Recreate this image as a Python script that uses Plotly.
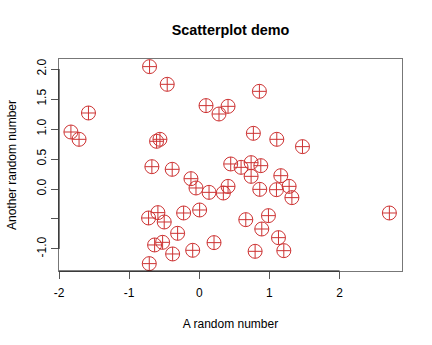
import plotly.graph_objects as go

x_vals = [-0.709, -0.457, -1.58, -1.83, -1.714, -0.609, -0.561, -0.676, -0.386, -0.119,
          -0.047, 0.139, 0.857, 0.096, 0.41, 0.281, 0.771, 1.105, 1.471, 0.448,
          0.596, 0.739, 0.877, 0.739, 1.162, 1.281, 1.1, 0.862, 1.32, 0.41,
          0.343, 0.005, 2.71, 0.663, 0.986, 0.891, 1.129, 0.21, 0.796, 1.205,
          -0.723, -0.59, -0.5, -0.223, -0.309, -0.637, -0.523, -0.38, -0.094, -0.713]
y_vals = [2.04, 1.745, 1.267, 0.95, 0.828, 0.795, 0.828, 0.372, 0.328, 0.172,
          0.017, -0.056, 1.628, 1.39, 1.378, 1.25, 0.928, 0.828, 0.706, 0.417,
          0.361, 0.439, 0.389, 0.211, 0.222, 0.044, -0.011, -0.006, -0.144, 0.044,
          -0.067, -0.35, -0.4, -0.511, -0.444, -0.667, -0.811, -0.894, -1.039, -1.028,
          -0.483, -0.394, -0.55, -0.4, -0.739, -0.933, -0.889, -1.083, -1.022, -1.244]

x_ticks = [-2, -1, 0, 1, 2]
x_ticktext = ["-2", "-1", "0", "1", "2"]
y_ticks = [-1.0, -0.5, 0.0, 0.5, 1.0, 1.5, 2.0]
y_ticktext = ["-1.0", "", "0.0", "0.5", "1.0", "1.5", "2.0"]

FONT = "Liberation Sans, Arial, sans-serif"

fig = go.Figure()
fig.add_trace(go.Scatter(
    x=x_vals, y=y_vals, mode="markers",
    marker=dict(symbol="circle-cross-open", size=14, color="#cd3333",
                line=dict(width=1, color="#cd3333")),
    showlegend=False, hoverinfo="skip"))

fig.update_layout(
    width=432, height=345,
    margin=dict(l=59, r=30, t=59, b=74),
    paper_bgcolor="white", plot_bgcolor="white",
    font=dict(family=FONT, size=12, color="black"),
    title=dict(text="<b>Scatterplot demo</b>", x=(59 + 402) / 2 / 432, xanchor="center",
               y=1 - 30 / 345, yanchor="middle", font=dict(size=14.4, family=FONT)),
)
fig.update_xaxes(
    range=[-2.0, 2.89], tickvals=x_ticks, ticktext=x_ticktext,
    showgrid=False, zeroline=False, showline=True, mirror=True, linecolor="#777", linewidth=1,
    ticks="outside", ticklen=7, tickcolor="#555", ticklabelstandoff=4,
    title=dict(text="A random number", standoff=20, font=dict(size=12)),
)
fig.update_yaxes(
    range=[-1.367, 2.167], tickvals=y_ticks, ticktext=y_ticktext, tickangle=-90,
    showgrid=False, zeroline=False, showline=True, mirror=True, linecolor="#777", linewidth=1,
    ticks="outside", ticklen=7, tickcolor="#555",
    title=dict(text="Another random number", standoff=16, font=dict(size=12)),
)
# R-style axis lines spanning from first to last tick
fig.add_shape(type="line", xref="x", yref="paper", x0=min(x_ticks), x1=max(x_ticks), y0=0, y1=0,
              line=dict(color="black", width=1))
fig.add_shape(type="line", xref="paper", yref="y", x0=0, x1=0, y0=min(y_ticks), y1=max(y_ticks),
              line=dict(color="black", width=1))

fig.write_html("out.html")
